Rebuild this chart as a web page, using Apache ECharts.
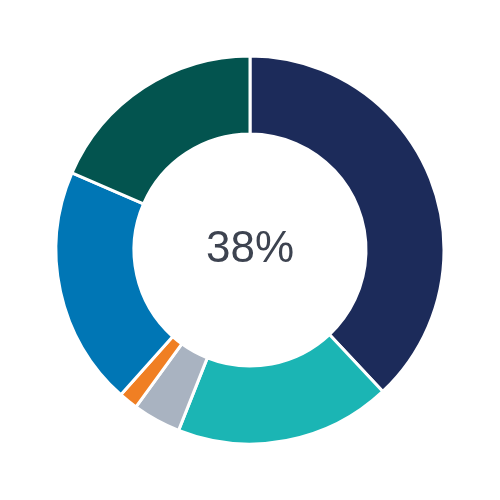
<!DOCTYPE html>
<html>
<head>
<meta charset="utf-8">
<script src="https://cdn.jsdelivr.net/npm/echarts@6/dist/echarts.min.js"></script>
<style>html,body{margin:0;padding:0;background:#fff}#c{width:500px;height:500px}</style>
</head>
<body>
<div id="c"></div>
<script>
const categories = ['Segment A', 'Segment B', 'Segment C', 'Segment D', 'Segment E', 'Segment F'];
const values = [38, 18, 4, 1.6, 19.9, 18.5];
const colors = ['#1c2b5a', '#1bb5b4', '#a9b3c1', '#f07f23', '#0076b5', '#03544f'];
const centerLabel = '38%';

const chart = echarts.init(document.getElementById('c'), null, {renderer: 'canvas'});
chart.setOption({
  animation: false,
  backgroundColor: '#ffffff',
  graphic: [{
    type: 'text',
    left: 'center',
    top: 'middle',
    style: {
      text: centerLabel,
      font: '44px "Liberation Sans", Arial, sans-serif',
      fill: '#3d4350',
      textAlign: 'center',
      textVerticalAlign: 'middle'
    }
  }],
  series: [{
    type: 'pie',
    center: [250, 250],
    radius: [116, 194],
    startAngle: 90,
    clockwise: true,
    label: {show: false},
    labelLine: {show: false},
    itemStyle: {borderColor: '#ffffff', borderWidth: 3},
    emphasis: {disabled: true},
    data: categories.map((n, i) => ({name: n, value: values[i], itemStyle: {color: colors[i]}}))
  }]
});
</script>
</body>
</html>
